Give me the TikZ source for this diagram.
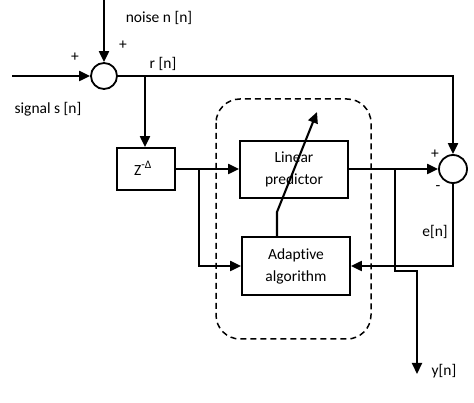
\documentclass[tikz,border=0pt]{standalone}
\usepackage{fontspec}
\setmainfont{Carlito}[Ligatures=NoCommon]
\usetikzlibrary{arrows.meta}
\begin{document}
\begin{tikzpicture}[x=1pt,y=-1pt,
  line width=2.1pt,
  arr/.style={-{Triangle[length=11pt,width=10pt]}},
  blk/.style={draw,line width=1.8pt,align=center,font=\fontsize{15.5}{22}\selectfont,inner sep=0pt},
  sumc/.style={draw,circle,line width=1.8pt,inner sep=0pt},
  lbl/.style={font=\fontsize{15.5}{18}\selectfont,inner sep=0pt}]
\useasboundingbox (0,0) rectangle (474,403);
% blocks
\node[sumc,minimum size=26pt] (sum1) at (104,76) {};
\node[sumc,minimum size=28pt] (sum2) at (453,169) {};
\node[blk,minimum width=58pt,minimum height=42pt] (zbox) at (146,169) {};
\node[lbl,anchor=base west] (zlab) at (133,176) {Z\raisebox{1.05ex}{\fontsize{11.5}{13}\selectfont -Δ}};
\node[blk,minimum width=108pt,minimum height=57pt] (lp) at (294,169.5) {Linear\\predictor};
\node[blk,minimum width=108pt,minimum height=58pt] (aa) at (296,266) {Adaptive\\algorithm};
\draw[line width=1.5pt,dash pattern=on 6pt off 4pt,rounded corners=24pt] (216,99) rectangle (371,339);
% coordinates
\coordinate (in) at (12,76);
\coordinate (ntop) at (104,0);
\coordinate (rc) at (453,76);
\coordinate (rb) at (145,76);
\coordinate (zb) at (199,169);
\coordinate (yb) at (395,169);
\coordinate (yk1) at (395,271);
\coordinate (yk2) at (417,271);
\coordinate (yend) at (417,374);
\coordinate (ec) at (453,266);
\coordinate (d1) at (277,212);
\coordinate (dtip) at (317,112);
% connectors
\draw[arr] (in) -- (sum1.west);
\draw[arr] (ntop) -- (sum1.north);
\draw[arr] (sum1.east) -- (rc) -- (sum2.north);
\draw[arr] (rb) -- (rb |- zbox.north);
\draw[arr] (zbox.east) -- (zbox.east -| lp.west);
\draw[arr] (zb) |- (aa.west);
\draw[arr] (lp.east |- sum2.west) -- (sum2.west);
\draw[arr] (yb) -- (yk1) -- (yk2) -- (yend);
\draw[arr] (sum2.south) -- (ec) -- (aa.east);
\draw[arr] (aa.north -| d1) -- (d1) -- (dtip);
% labels
\node[lbl] (noise) at (159,18) {noise n [n]};
\node[lbl] (p1) at (75,57) {+};
\node[lbl] (p2) at (123,45) {+};
\node[lbl] (r) at (163,64) {r [n]};
\node[lbl] (sig) at (48,109) {signal s [n]};
\node[lbl] (p3) at (435,154) {+};
\node[lbl] (m) at (438,188) {-};
\node[lbl] (e) at (435,232) {e[n]};
\node[lbl] (y) at (444,371) {y[n]};
\end{tikzpicture}
\end{document}
